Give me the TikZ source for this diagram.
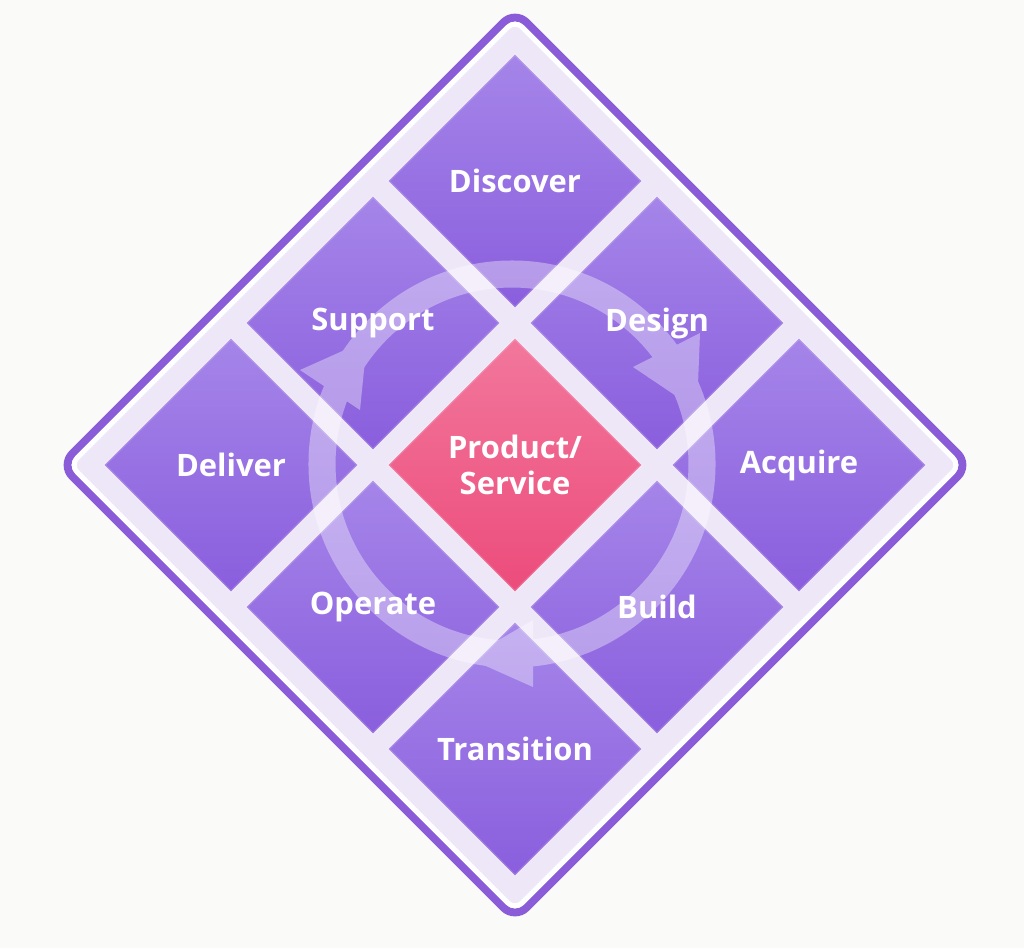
\documentclass[tikz,border=0pt]{standalone}
\usepackage{fontspec}
\setmainfont{Open Sans}
\usetikzlibrary{shapes.geometric}
\definecolor{bg}{HTML}{FAFAF8}
\definecolor{framec}{HTML}{8A5CD8}
\definecolor{lav}{HTML}{EEE7F8}
\definecolor{cellT}{HTML}{A585E9}
\definecolor{cellM}{HTML}{8F64E0}
\definecolor{cellB}{HTML}{8A5EDD}
\definecolor{pinkT}{HTML}{F2779C}
\definecolor{pinkM}{HTML}{EE5482}
\definecolor{pinkB}{HTML}{EC4C7B}
\tikzset{
  cellbox/.style={diamond, aspect=1, inner sep=0pt, minimum width=144.5pt, minimum height=144.5pt,
    top color=cellT, middle color=cellM, bottom color=cellB,
    draw=white, draw opacity=0.15, line width=1.5pt,
    text=white, align=center, font=\fontsize{17.6pt}{20.5pt}\selectfont\bfseries},
  hubbox/.style={cellbox, top color=pinkT, middle color=pinkM, bottom color=pinkB},
}
\begin{document}
\begin{tikzpicture}[x=0.02cm,y=-0.02cm]
\useasboundingbox (0,0) rectangle (1024,948);
\fill[bg] (0,0) rectangle (1024,948);
% outer frame
\draw[framec, line width=4.55pt, fill=lav, rounded corners=9.1pt]
  (515,11) -- (969,465) -- (515,919) -- (61,465) -- cycle;
\draw[white, line width=2.85pt, rounded corners=5.7pt]
  (515,20) -- (960,465) -- (515,910) -- (70,465) -- cycle;
% cells
\node[hubbox]  (hub)   at (515,465) {Product/\\Service};
\node[cellbox] (disc)  at (515,181) {Discover};
\node[cellbox] (desg)  at (657,323) {Design};
\node[cellbox] (acq)   at (799,465) {Acquire};
\node[cellbox] (bld)   at (657,607) {Build};
\node[cellbox] (trans) at (515,749) {Transition};
\node[cellbox] (oper)  at (373,607) {Operate};
\node[cellbox] (dlv)   at (231,465) {Deliver};
\node[cellbox] (supp)  at (373,323) {Support};
% cycle ring
\begin{scope}[transparency group, opacity=0.36]
  \draw[white, line width=15.4pt] (512,464) circle[radius=190];
  \fill[white] (367,340) -- (300,370) -- (360,410) -- cycle;
  \fill[white] (697,410) -- (633,367) -- (700,333) -- cycle;
  \fill[white] (468,658) -- (533,620) -- (533,687) -- cycle;
\end{scope}
\end{tikzpicture}
\end{document}
